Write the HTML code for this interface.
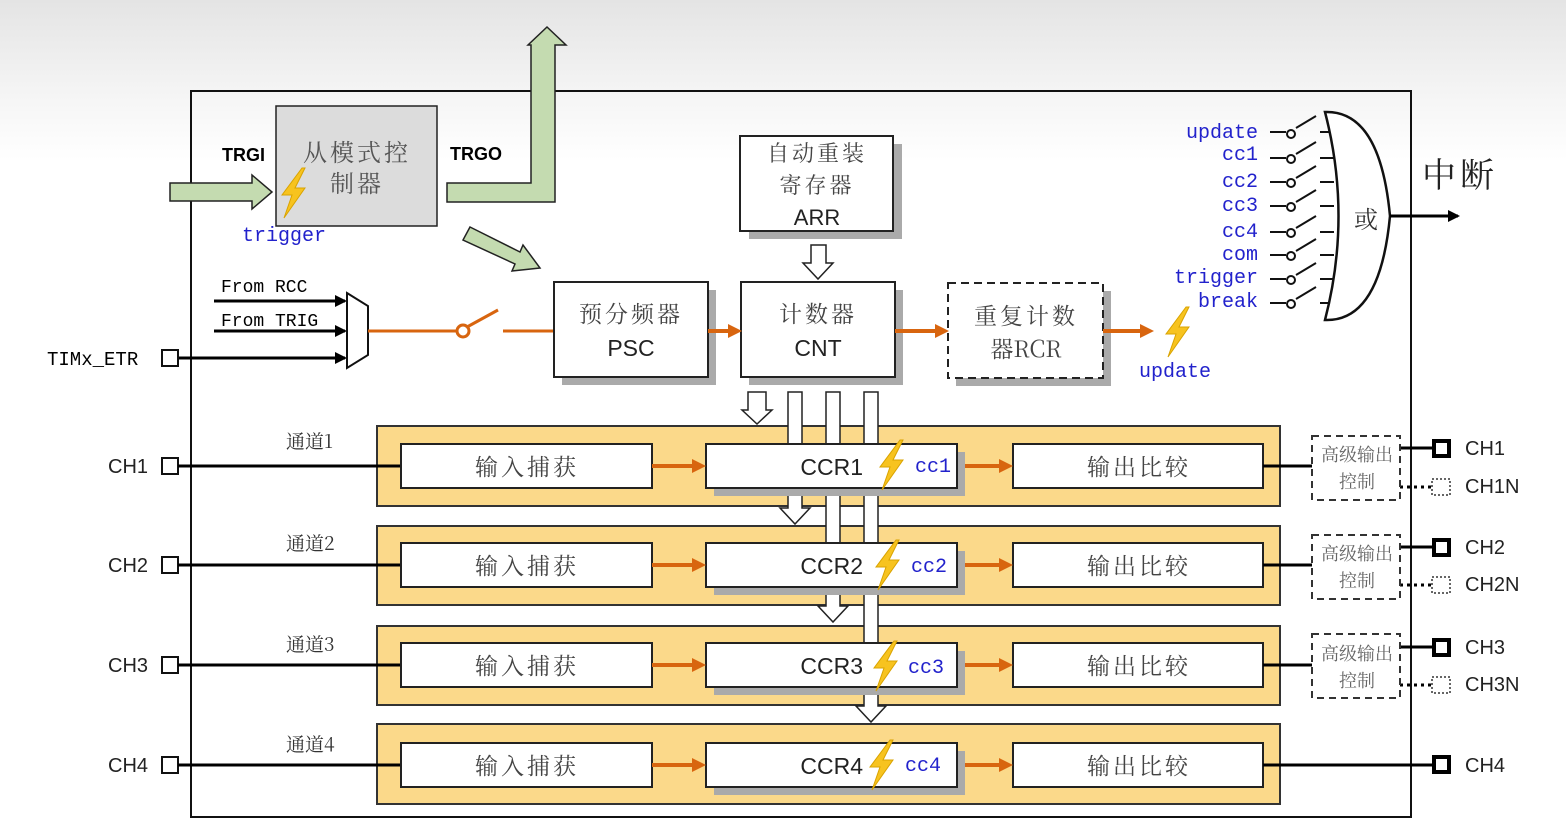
<!DOCTYPE html>
<html><head><meta charset="utf-8"><style>
body{margin:0;width:1566px;height:834px;overflow:hidden;background:linear-gradient(#e4e4e4 0px,#f4f4f4 90px,#fff 160px);}
svg{position:absolute;left:0;top:0}
text{font-family:"Liberation Sans","Noto Sans CJK SC",sans-serif}
.m,.m text{font-family:"Liberation Mono","DejaVu Sans Mono",monospace}
.b,.b text{fill:#2222cc}
.cn,.cn text{font-family:"Noto Serif CJK SC","Noto Sans CJK SC",serif}
</style></head><body>
<svg width="1566" height="834" viewBox="0 0 1566 834">
<defs>
<path id="bolt" d="M10,-24 L-10,3 L0,3 L-8,26 L13,-4 L3,-4 L13,-24 Z" fill="#f7c31f" stroke="#d9a300" stroke-width="1"/>
<marker id="oa" markerWidth="14" markerHeight="14" refX="10" refY="7" orient="auto" markerUnits="userSpaceOnUse"><path d="M0,0 L14,7 L0,14Z" fill="#d8650f"/></marker>
<marker id="ka" markerWidth="12" markerHeight="12" refX="10" refY="6" orient="auto" markerUnits="userSpaceOnUse"><path d="M0,0 L12,6 L0,12Z" fill="#000"/></marker>
</defs>
<rect x="191" y="91" width="1220" height="726" fill="none" stroke="#111" stroke-width="2"/>
<path d="M447,183 L531,183 L531,45 L528,45 L547,27 L566,45 L555,45 L555,202 L447,202 Z" fill="#c4dbb0" stroke="#222" stroke-width="1.5"/>
<rect x="276" y="106" width="161" height="120" fill="#dcdcdc" stroke="#222" stroke-width="1.5"/>
<text x="357" y="161" font-size="24" text-anchor="middle" fill="#555" class="cn" letter-spacing="3">从模式控</text>
<text x="357" y="192" font-size="24" text-anchor="middle" fill="#555" class="cn" letter-spacing="3">制器</text>
<text x="222" y="161" font-size="18" font-weight="bold">TRGI</text>
<text x="450" y="160" font-size="18" font-weight="bold">TRGO</text>
<path d="M170,183 L252,183 L252,175 L272,192 L252,209 L252,201 L170,201 Z" fill="#c4dbb0" stroke="#222" stroke-width="1.5"/>
<use href="#bolt" transform="translate(292,192)"/>
<text x="242" y="241" font-size="20" class="m b">trigger</text>
<path d="M470,227 L520,252 L523,245 L540,268 L512,271 L515,264 L463,240 Z" fill="#c4dbb0" stroke="#222" stroke-width="1.5"/>
<text x="221" y="292" font-size="18" class="m">From RCC</text>
<text x="221" y="326" font-size="18" class="m">From TRIG</text>
<line x1="214" y1="301" x2="345" y2="301" stroke="#000" stroke-width="3" marker-end="url(#ka)"/>
<line x1="214" y1="331" x2="345" y2="331" stroke="#000" stroke-width="3" marker-end="url(#ka)"/>
<line x1="178" y1="358" x2="345" y2="358" stroke="#000" stroke-width="3" marker-end="url(#ka)"/>
<path d="M347,293 L368,306 L368,355 L347,368 Z" fill="#fff" stroke="#111" stroke-width="2"/>
<text x="47" y="365" font-size="19" class="m">TIMx_ETR</text>
<rect x="162" y="350" width="16" height="16" fill="#fff" stroke="#111" stroke-width="2"/>
<line x1="368" y1="331" x2="457" y2="331" stroke="#d8650f" stroke-width="3"/>
<circle cx="463" cy="331" r="6" fill="#fff" stroke="#d8650f" stroke-width="3"/>
<line x1="467" y1="327" x2="498" y2="310" stroke="#d8650f" stroke-width="3"/>
<line x1="503" y1="331" x2="553" y2="331" stroke="#d8650f" stroke-width="3"/>
<rect x="562" y="290" width="154" height="95" fill="#aaa"/>
<rect x="554" y="282" width="154" height="95" fill="#fff" stroke="#222" stroke-width="2"/>
<text x="631" y="322" font-size="23" text-anchor="middle" fill="#444" class="cn" letter-spacing="3">预分频器</text>
<text x="631" y="356" font-size="23" text-anchor="middle" fill="#222">PSC</text>
<rect x="749" y="144" width="153" height="95" fill="#aaa"/>
<rect x="740" y="136" width="153" height="95" fill="#fff" stroke="#222" stroke-width="2"/>
<text x="817" y="161" font-size="22" text-anchor="middle" fill="#444" class="cn" letter-spacing="3">自动重装</text>
<text x="817" y="193" font-size="22" text-anchor="middle" fill="#444" class="cn" letter-spacing="3">寄存器</text>
<text x="817" y="225" font-size="22" text-anchor="middle" fill="#222">ARR</text>
<path d="M811,245 L826,245 L826,263 L833,263 L818,279 L803,263 L811,263 Z" fill="#fff" stroke="#222" stroke-width="1.5"/>
<rect x="749" y="290" width="154" height="95" fill="#aaa"/>
<rect x="741" y="282" width="154" height="95" fill="#fff" stroke="#222" stroke-width="2"/>
<text x="818" y="322" font-size="23" text-anchor="middle" fill="#444" class="cn" letter-spacing="3">计数器</text>
<text x="818" y="356" font-size="23" text-anchor="middle" fill="#222">CNT</text>
<rect x="956" y="291" width="155" height="95" fill="#aaa"/>
<rect x="948" y="283" width="155" height="95" fill="#fff" stroke="#222" stroke-width="2" stroke-dasharray="8,5"/>
<text x="1026" y="324" font-size="23" text-anchor="middle" fill="#444" class="cn" letter-spacing="3">重复计数</text>
<text x="1026" y="357" font-size="23" text-anchor="middle" fill="#444" class="cn">器RCR</text>
<line x1="708" y1="331" x2="738" y2="331" stroke="#d8650f" stroke-width="4" marker-end="url(#oa)"/>
<line x1="895" y1="331" x2="945" y2="331" stroke="#d8650f" stroke-width="4" marker-end="url(#oa)"/>
<line x1="1103" y1="331" x2="1150" y2="331" stroke="#d8650f" stroke-width="4" marker-end="url(#oa)"/>
<use href="#bolt" transform="translate(1176,331)"/>
<text x="1175" y="377" font-size="20" text-anchor="middle" class="m b">update</text>
<g font-size="20" class="m b" text-anchor="end">
<text x="1258" y="138">update</text><text x="1258" y="160">cc1</text><text x="1258" y="187">cc2</text><text x="1258" y="211">cc3</text><text x="1258" y="237">cc4</text><text x="1258" y="260">com</text><text x="1258" y="283">trigger</text><text x="1258" y="307">break</text>
</g>
<g stroke="#111" stroke-width="2" fill="#fff">
<path d="M1270,132h16 M1296,128l20,-12 M1320,132h14"/><circle cx="1291" cy="134" r="4"/>
<path d="M1270,158h16 M1296,154l20,-12 M1320,158h14"/><circle cx="1291" cy="159" r="4"/>
<path d="M1270,182h16 M1296,178l20,-12 M1320,182h14"/><circle cx="1291" cy="183" r="4"/>
<path d="M1270,206h16 M1296,202l20,-12 M1320,206h14"/><circle cx="1291" cy="207" r="4"/>
<path d="M1270,232h16 M1296,228l20,-12 M1320,232h14"/><circle cx="1291" cy="233" r="4"/>
<path d="M1270,255h16 M1296,251l20,-12 M1320,255h14"/><circle cx="1291" cy="256" r="4"/>
<path d="M1270,279h16 M1296,275l20,-12 M1320,279h14"/><circle cx="1291" cy="280" r="4"/>
<path d="M1270,303h16 M1296,299l20,-12 M1320,303h14"/><circle cx="1291" cy="304" r="4"/>
</g>
<path d="M1325,112 Q1380,110 1390,216 Q1380,322 1325,320 Q1352,216 1325,112 Z" fill="#fff" stroke="#111" stroke-width="2.5"/>
<text x="1366" y="228" font-size="24" text-anchor="middle" class="cn" fill="#333">或</text>
<line x1="1390" y1="216" x2="1458" y2="216" stroke="#000" stroke-width="3" marker-end="url(#ka)"/>
<text x="1422" y="187" font-size="34" class="cn" fill="#222" letter-spacing="4">中断</text>
<g fill="#fbd98a" stroke="#333" stroke-width="2">
<rect x="377" y="426" width="903" height="80"/>
<rect x="377" y="526" width="903" height="79"/>
<rect x="377" y="626" width="903" height="79"/>
<rect x="377" y="724" width="903" height="80"/>
</g>
<g fill="#fff" stroke="#222" stroke-width="1.5">
<path d="M748,392 L766,392 L766,410 L772,410 L757,424 L742,410 L748,410 Z"/>
<path d="M788,392 L802,392 L802,508 L810,508 L795,524 L780,508 L788,508 Z"/>
<path d="M826,392 L840,392 L840,606 L848,606 L833,622 L818,606 L826,606 Z"/>
<path d="M864,392 L878,392 L878,706 L886,706 L871,722 L856,706 L864,706 Z"/>
</g>
<g font-size="20" fill="#222">
<text x="108" y="473">CH1</text><text x="108" y="572">CH2</text><text x="108" y="672">CH3</text><text x="108" y="772">CH4</text>
</g>
<g font-size="19" class="cn" fill="#333">
<text x="286" y="448">通道1</text><text x="286" y="550">通道2</text><text x="286" y="651">通道3</text><text x="286" y="751">通道4</text>
</g>
<g fill="#fff" stroke="#111" stroke-width="2">
<rect x="162" y="458" width="16" height="16"/><rect x="162" y="557" width="16" height="16"/><rect x="162" y="657" width="16" height="16"/><rect x="162" y="757" width="16" height="16"/>
</g>
<g stroke="#000" stroke-width="3">
<line x1="178" y1="466" x2="401" y2="466"/><line x1="178" y1="565" x2="401" y2="565"/><line x1="178" y1="665" x2="401" y2="665"/><line x1="178" y1="765" x2="401" y2="765"/>
</g>
<g fill="#aaa">
<rect x="714" y="452" width="251" height="44"/><rect x="714" y="551" width="251" height="44"/><rect x="714" y="651" width="251" height="44"/><rect x="714" y="751" width="251" height="44"/>
</g>
<g fill="#fff" stroke="#222" stroke-width="2">
<rect x="401" y="444" width="251" height="44"/><rect x="706" y="444" width="251" height="44"/><rect x="1013" y="444" width="250" height="44"/>
<rect x="401" y="543" width="251" height="44"/><rect x="706" y="543" width="251" height="44"/><rect x="1013" y="543" width="250" height="44"/>
<rect x="401" y="643" width="251" height="44"/><rect x="706" y="643" width="251" height="44"/><rect x="1013" y="643" width="250" height="44"/>
<rect x="401" y="743" width="251" height="44"/><rect x="706" y="743" width="251" height="44"/><rect x="1013" y="743" width="250" height="44"/>
</g>
<g font-size="23" class="cn" fill="#444" text-anchor="middle" letter-spacing="3">
<text x="527" y="475">输入捕获</text><text x="1139" y="475">输出比较</text>
<text x="527" y="574">输入捕获</text><text x="1139" y="574">输出比较</text>
<text x="527" y="674">输入捕获</text><text x="1139" y="674">输出比较</text>
<text x="527" y="774">输入捕获</text><text x="1139" y="774">输出比较</text>
</g>
<g font-size="23" fill="#222" text-anchor="end">
<text x="863" y="475">CCR1</text><text x="863" y="574">CCR2</text><text x="863" y="674">CCR3</text><text x="863" y="774">CCR4</text>
</g>
<use href="#bolt" transform="translate(890,464)"/><use href="#bolt" transform="translate(886,564)"/><use href="#bolt" transform="translate(884,665)"/><use href="#bolt" transform="translate(880,764)"/>
<g font-size="20" class="m b">
<text x="915" y="472">cc1</text><text x="911" y="572">cc2</text><text x="908" y="673">cc3</text><text x="905" y="771">cc4</text>
</g>
<g stroke="#d8650f" stroke-width="4">
<line x1="652" y1="466" x2="702" y2="466" marker-end="url(#oa)"/><line x1="965" y1="466" x2="1009" y2="466" marker-end="url(#oa)"/>
<line x1="652" y1="565" x2="702" y2="565" marker-end="url(#oa)"/><line x1="965" y1="565" x2="1009" y2="565" marker-end="url(#oa)"/>
<line x1="652" y1="665" x2="702" y2="665" marker-end="url(#oa)"/><line x1="965" y1="665" x2="1009" y2="665" marker-end="url(#oa)"/>
<line x1="652" y1="765" x2="702" y2="765" marker-end="url(#oa)"/><line x1="965" y1="765" x2="1009" y2="765" marker-end="url(#oa)"/>
</g>
<g stroke="#000" stroke-width="3">
<line x1="1263" y1="466" x2="1312" y2="466"/><line x1="1263" y1="565" x2="1312" y2="565"/><line x1="1263" y1="665" x2="1312" y2="665"/><line x1="1263" y1="765" x2="1434" y2="765"/>
<line x1="1400" y1="448" x2="1434" y2="448"/><line x1="1400" y1="547" x2="1434" y2="547"/><line x1="1400" y1="647" x2="1434" y2="647"/>
</g>
<g stroke="#000" stroke-width="3" stroke-dasharray="3,4">
<line x1="1400" y1="487" x2="1432" y2="487"/><line x1="1400" y1="585" x2="1432" y2="585"/><line x1="1400" y1="685" x2="1432" y2="685"/>
</g>
<g fill="#fff" stroke="#333" stroke-width="2" stroke-dasharray="7,5">
<rect x="1312" y="436" width="88" height="64"/><rect x="1312" y="535" width="88" height="64"/><rect x="1312" y="634" width="88" height="64"/>
</g>
<g font-size="18" class="cn" fill="#666" text-anchor="middle">
<text x="1357" y="461">高级输出</text><text x="1357" y="488">控制</text>
<text x="1357" y="560">高级输出</text><text x="1357" y="587">控制</text>
<text x="1357" y="660">高级输出</text><text x="1357" y="687">控制</text>
</g>
<g fill="#fff" stroke="#000" stroke-width="4">
<rect x="1434" y="441" width="15" height="15"/><rect x="1434" y="540" width="15" height="15"/><rect x="1434" y="640" width="15" height="15"/><rect x="1434" y="757" width="15" height="15"/>
</g>
<g fill="#fff" stroke="#333" stroke-width="1.5" stroke-dasharray="2,2">
<rect x="1432" y="479" width="18" height="16"/><rect x="1432" y="577" width="18" height="16"/><rect x="1432" y="677" width="18" height="16"/>
</g>
<g font-size="20" fill="#222">
<text x="1465" y="455">CH1</text><text x="1465" y="493">CH1N</text>
<text x="1465" y="554">CH2</text><text x="1465" y="591">CH2N</text>
<text x="1465" y="654">CH3</text><text x="1465" y="691">CH3N</text>
<text x="1465" y="772">CH4</text>
</g>
</svg>
</body></html>
